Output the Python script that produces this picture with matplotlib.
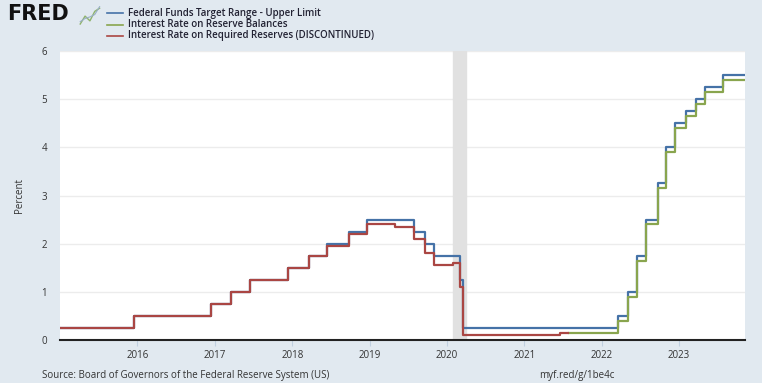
import matplotlib
matplotlib.use('Agg')
import matplotlib.pyplot as plt
import matplotlib.dates as mdates
import pandas as pd

plt.rcParams['font.family'] = ['Open Sans', 'DejaVu Sans']

# Federal Funds Target Range - Upper Limit (change dates, level)
upper_dates = ['2015-01-01', '2015-12-17', '2016-12-15', '2017-03-16', '2017-06-15',
               '2017-12-14', '2018-03-22', '2018-06-14', '2018-09-27', '2018-12-20',
               '2019-08-01', '2019-09-19', '2019-10-31', '2020-03-04', '2020-03-16',
               '2022-03-17', '2022-05-05', '2022-06-16', '2022-07-28', '2022-09-22',
               '2022-11-03', '2022-12-15', '2023-02-02', '2023-03-23', '2023-05-04',
               '2023-07-27', '2023-11-10']
upper_vals = [0.25, 0.50, 0.75, 1.00, 1.25, 1.50, 1.75, 2.00, 2.25, 2.50,
              2.25, 2.00, 1.75, 1.25, 0.25, 0.50, 1.00, 1.75, 2.50, 3.25,
              4.00, 4.50, 4.75, 5.00, 5.25, 5.50, 5.50]

# Interest Rate on Reserve Balances
iorb_dates = ['2021-07-29', '2022-03-17', '2022-05-05', '2022-06-16', '2022-07-28',
              '2022-09-22', '2022-11-03', '2022-12-15', '2023-02-02', '2023-03-23',
              '2023-05-04', '2023-07-27', '2023-11-10']
iorb_vals = [0.15, 0.40, 0.90, 1.65, 2.40, 3.15, 3.90, 4.40, 4.65, 4.90, 5.15, 5.40, 5.40]

# Interest Rate on Required Reserves (DISCONTINUED)
iorr_dates = ['2015-01-01', '2015-12-17', '2016-12-15', '2017-03-16', '2017-06-15',
              '2017-12-14', '2018-03-22', '2018-06-14', '2018-09-27', '2018-12-20',
              '2019-05-02', '2019-08-01', '2019-09-19', '2019-10-31', '2020-01-30',
              '2020-03-04', '2020-03-16', '2021-06-17', '2021-07-28']
iorr_vals = [0.25, 0.50, 0.75, 1.00, 1.25, 1.50, 1.75, 1.95, 2.20, 2.40,
             2.35, 2.10, 1.80, 1.55, 1.60, 1.10, 0.10, 0.15, 0.15]

recession = ('2020-02-01', '2020-04-01')

bg = '#e1e9f0'
fig = plt.figure(figsize=(7.62, 3.83), dpi=100, facecolor=bg)
ax = fig.add_axes([0.079, 0.112, 0.899, 0.755])
ax.set_facecolor('white')

ax.axvspan(pd.Timestamp(recession[0]), pd.Timestamp(recession[1]), color='#e1e1e1', zorder=1)

ax.step(pd.to_datetime(upper_dates), upper_vals, where='post', color='#4572a7', lw=1.6, zorder=3)
ax.step(pd.to_datetime(iorb_dates), iorb_vals, where='post', color='#89a54e', lw=1.6, zorder=4)
ax.step(pd.to_datetime(iorr_dates), iorr_vals, where='post', color='#aa4643', lw=1.6, zorder=5)

ax.set_xlim(pd.Timestamp('2015-01-01'), pd.Timestamp('2023-11-10'))
ax.set_ylim(0, 6)
ax.set_yticks(range(7))
ax.yaxis.grid(True, color='#ececec', lw=1)
ax.set_axisbelow(True)
ax.xaxis.set_major_formatter(mdates.DateFormatter('%Y'))
ax.set_xticks([pd.Timestamp('%d-01-01' % y) for y in range(2016, 2024)])

for s in ['top', 'right', 'left']:
    ax.spines[s].set_visible(False)
ax.spines['bottom'].set_color('#222222')
ax.spines['bottom'].set_linewidth(1.5)
ax.tick_params(axis='y', length=0, labelsize=7, colors='#333333', pad=11.5)
ax.tick_params(axis='x', length=4, color='#c0d0e0', labelsize=7, colors='#333333', pad=3)
for lab in ax.get_yticklabels():
    lab.set_horizontalalignment('center')
ax.set_ylabel('Percent', fontsize=7, color='#333333', labelpad=0)
ax.yaxis.set_label_coords(-0.052, 0.5)

# header
fig.text(0.010, 0.963, 'FRED', fontsize=15, fontweight='bold', color='#111111', va='center',
         family='DejaVu Sans')
icon = fig.add_axes([0.104, 0.935, 0.028, 0.05])
icon.set_facecolor(bg)
icon.plot([0, 1, 2, 3, 4], [0, 1, 0.4, 1.6, 2], color='#8fb36c', lw=1)
icon.plot([0, 1, 2, 3, 4], [0.3, 0.7, 0.9, 1.2, 2.2], color='#9ab0c8', lw=0.8)
icon.set_xticks([])
icon.set_yticks([])
for s in icon.spines.values():
    s.set_visible(False)

legend = [('Federal Funds Target Range - Upper Limit', '#4572a7'),
          ('Interest Rate on Reserve Balances', '#89a54e'),
          ('Interest Rate on Required Reserves (DISCONTINUED)', '#aa4643')]
for i, (name, col) in enumerate(legend):
    y = 0.965 - i * 0.029
    fig.add_artist(plt.Line2D([0.141, 0.161], [y, y], color=col, lw=1.2))
    fig.text(0.168, y, name, fontsize=7, color='#222233', va='center', fontweight='semibold')

fig.text(0.055, 0.012, 'Source: Board of Governors of the Federal Reserve System (US)',
         fontsize=7, color='#333333')
fig.text(0.708, 0.012, 'myf.red/g/1be4c', fontsize=7, color='#333333')

fig.savefig('out.png', dpi=100, facecolor=bg)
